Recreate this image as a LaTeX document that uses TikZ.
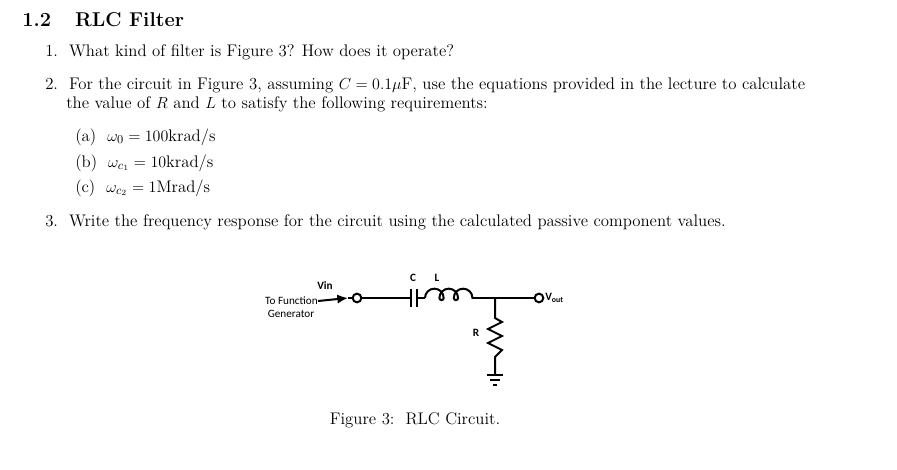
\documentclass[tikz,border=0pt]{standalone}
\usepackage{fontspec}
\usetikzlibrary{arrows.meta}
\newfontfamily\carl{Carlito}
\begin{document}
\begin{tikzpicture}[x=0.75pt,y=-0.75pt,
  txt/.style={anchor=west,inner sep=0,font=\fontsize{12.6}{15}\selectfont},
  ctxt/.style={inner sep=0,font=\carl\fontsize{8.4}{10}\selectfont},
  btxt/.style={inner sep=0,font=\carl\bfseries\fontsize{8.4}{10}\selectfont},
  w/.style={line width=1.5pt}]
\path[fill=white] (0,0) rectangle (897,470);
\node[txt,font=\bfseries\fontsize{15}{17}\selectfont] (h) at (22,20) {1.2\hspace{1.2em}RLC Filter};
\node[txt] (q1) at (45,52) {1.\ \ What kind of filter is Figure 3? How does it operate?};
\node[txt] (q2) at (45,85) {2.\ \ For the circuit in Figure 3, assuming $C = 0.1\mu$F, use the equations provided in the lecture to calculate};
\node[txt] (q2b) at (66,104) {the value of $R$ and $L$ to satisfy the following requirements:};
\node[txt] (a) at (75,137) {(a)\ \ $\omega_0 = 100$krad/s};
\node[txt] (b) at (75,163) {(b)\ \ $\omega_{c_1} = 10$krad/s};
\node[txt] (c) at (75,188) {(c)\ \ $\omega_{c_2} = 1$Mrad/s};
\node[txt] (q3) at (45,222) {3.\ \ Write the frequency response for the circuit using the calculated passive component values.};
\node[txt,anchor=center] (cap) at (415,420) {Figure 3:\ \ RLC Circuit.};
% circuit
\node[ctxt,anchor=east] (tf) at (318,301) {To Function};
\node[ctxt] (gen) at (291,314) {Generator};
\node[btxt] (vin) at (325,286) {Vin};
\node[draw,circle,w,minimum size=6.5pt,inner sep=0] (in) at (357,298) {};
\node[draw,circle,w,minimum size=6.5pt,inner sep=0] (out) at (539,298) {};
\node[btxt,anchor=west] (vout) at (545,298) {V\textsubscript{out}};
\node[btxt] (cl) at (413,278) {C};
\node[btxt] (ll) at (437,278) {L};
\node[btxt] (rl) at (476,333) {R};
\coordinate (j) at (495,298);
\coordinate (c1) at (411,298);
\coordinate (c2) at (417,298);
\coordinate (l1) at (425,298);
\coordinate (l2) at (473,298);
\coordinate (r1) at (495,318);
\coordinate (r2) at (495,357);
\coordinate (g) at (495,375);
\draw[w,-{Latex[length=8pt,width=7pt]}] (tf.east) -- ++(30,-3) coordinate (arr);
\draw[w] (arr) -- (in.west);
\draw[w] (in.east) -- (c1);
\draw[w] (411,289) -- (411,307) (417,289) -- (417,307);
\draw[w] (c2) -- (l1);
\draw[w] (l1) arc[start angle=180,end angle=0,radius=7pt]
  arc[start angle=0,end angle=-180,radius=1.6pt]
  arc[start angle=180,end angle=0,radius=7pt]
  arc[start angle=0,end angle=-180,radius=1.6pt]
  arc[start angle=180,end angle=0,radius=7pt] -- (l2);
\draw[w] (l2) -- (j) -- (out.west);
\draw[w] (j) -- (r1) -- (502,322) -- (488,329) -- (502,336) -- (488,343) -- (502,350) -- (r2) -- (g);
\draw[w] (487,375) -- (503,375) (490,380) -- (500,380) (493,385) -- (497,385);
\end{tikzpicture}
\end{document}
